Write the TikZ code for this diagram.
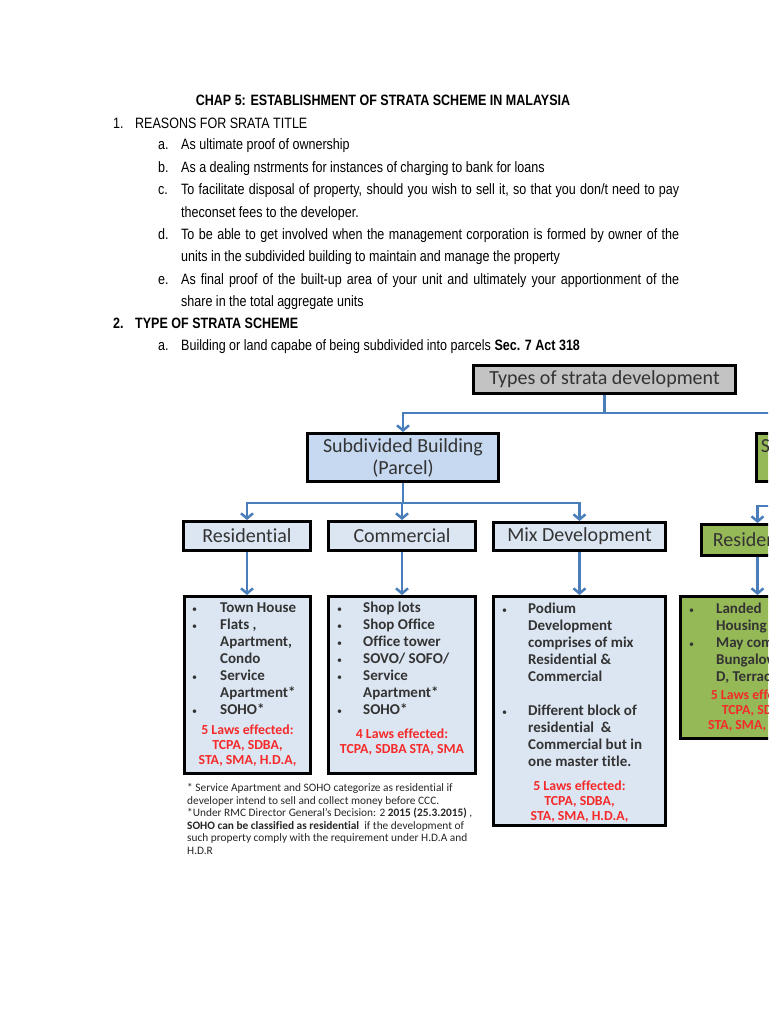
\documentclass[tikz,border=0pt]{standalone}
\usepackage{fontspec}
\setmainfont{Liberation Sans}
\newfontfamily\narrowfont[FakeStretch=0.835]{Liberation Sans}
\newfontfamily\calfont[Ligatures=NoCommon]{Carlito}
\usetikzlibrary{arrows.meta}
\definecolor{conn}{HTML}{4A7EBB}
\definecolor{boxblue}{HTML}{C6D9F1}
\definecolor{paleblue}{HTML}{DCE6F2}
\definecolor{titlegray}{HTML}{C3C3C3}
\definecolor{olivebox}{HTML}{96B957}
\definecolor{lawred}{HTML}{F52A2A}
\definecolor{ink}{HTML}{333333}
\newcommand\bul{{\mdseries\fontsize{10}{10}\selectfont\textbullet}}
\begin{document}
\begin{tikzpicture}[x=1pt,y=-1pt,
  hdr/.style={draw=black, line width=3pt, font=\calfont\fontsize{20}{22}\selectfont, text=ink, inner sep=0pt, align=center},
  detail/.style={draw=black, line width=3pt, inner sep=0pt},
  arr/.style={draw=conn, line width=2.5pt, -{Straight Barb[length=5pt,width=12pt]}},
  cline/.style={draw=conn, line width=2.5pt},
  lst/.style={anchor=north west, inner sep=0pt, font=\calfont\bfseries\fontsize{15}{17}\selectfont, text=ink},
  law/.style={anchor=north, inner sep=0pt, align=center, font=\calfont\bfseries\fontsize{13.8}{15}\selectfont, text=lawred},
  txt/.style={anchor=base west, inner sep=0pt, font=\narrowfont\fontsize{15}{18}\selectfont, text=black},
  btxt/.style={txt, font=\narrowfont\bfseries\fontsize{15}{18}\selectfont}
]
\useasboundingbox (0,0) rectangle (768,1024);
\clip (0,0) rectangle (768,1024);
\fill[white] (0,0) rectangle (768,1024);

% ---------- text part ----------
\node[btxt, anchor=base] (title) at (383,105.4) {CHAP 5: ESTABLISHMENT OF STRATA SCHEME IN MALAYSIA};
\node[txt] (n1) at (113,128.4) {1.};
\node[txt] (h1) at (135,128.4) {REASONS FOR SRATA TITLE};
\node[txt] (la) at (158,150) {a.};
\node[txt] (ta) at (181,150) {As ultimate proof of ownership};
\node[txt] (lb) at (158,172.5) {b.};
\node[txt] (tb) at (181,172.5) {As a dealing nstrments for instances of charging to bank for loans};
\node[txt] (lc) at (158,195) {c.};
\node[txt] (tc) at (181,195) {\makebox[498pt][s]{To facilitate disposal of property, should you wish to sell it, so that you don/t need to pay}};
\node[txt] (tc2) at (181,217.5) {theconset fees to the developer.};
\node[txt] (ld) at (158,239.5) {d.};
\node[txt] (td) at (181,239.5) {\makebox[498pt][s]{To be able to get involved when the management corporation is formed by owner of the}};
\node[txt] (td2) at (181,261.5) {units in the subdivided building to maintain and manage the property};
\node[txt] (le) at (158,284.5) {e.};
\node[txt] (te) at (181,284.5) {\makebox[498pt][s]{As final proof of the built-up area of your unit and ultimately your apportionment of the}};
\node[txt] (te2) at (181,306) {share in the total aggregate units};
\node[btxt] (n2) at (113,328.5) {2.};
\node[btxt] (h2) at (135,328.5) {TYPE OF STRATA SCHEME};
\node[txt] (l2a) at (158,350.5) {a.};
\node[txt] (t2a) at (181,350.5) {Building or land capabe of being subdivided into parcels \textbf{Sec. 7 Act 318}};

% ---------- diagram boxes ----------
\node[hdr, fill=titlegray, minimum width=262pt, minimum height=28pt] (types) at (604.5,379.5) {Types of strata development};
\node[hdr, fill=boxblue, minimum width=191pt, minimum height=48pt] (sub) at (403,457.5) {Subdivided Building\\(Parcel)};
\node[hdr, fill=olivebox, minimum width=142pt, minimum height=48pt] (land) at (827.5,457.5) {Subdivided Land\\(Land Parcel)};
\node[hdr, fill=paleblue, minimum width=127pt, minimum height=29pt] (res) at (247,536) {Residential};
\node[hdr, fill=paleblue, minimum width=147pt, minimum height=29pt] (com) at (402,536) {Commercial};
\node[hdr, fill=paleblue, minimum width=172pt, minimum height=28pt] (mix) at (579.5,536.5) {Mix Development};
\node[hdr, fill=olivebox, minimum width=112pt, minimum height=31pt] (gres) at (757.5,540) {Residential};

\node[detail, fill=paleblue, minimum width=126pt, minimum height=177pt] (resd) at (247.5,685) {};
\node[detail, fill=paleblue, minimum width=147pt, minimum height=177pt] (comd) at (402,685) {};
\node[detail, fill=paleblue, minimum width=172pt, minimum height=229pt] (mixd) at (579.5,711) {};
\node[detail, fill=olivebox, minimum width=153pt, minimum height=142pt] (gresd) at (757,667.5) {};

% ---------- connectors ----------
\coordinate (j1) at (604.5,413);
\draw[cline] (types.south) -- (j1);
\draw[arr] (j1) -| (sub.north);
\draw[arr] (j1) -| (land.north);
\coordinate (j2) at (403,503);
\draw[cline] (sub.south) -- (j2);
\draw[arr] (j2) -| (res.north);
\draw[arr] (j2) -| (com.north);
\draw[arr] (j2) -| (mix.north);
\coordinate (j3) at (827.5,506);
\draw[cline] (land.south) -- (j3);
\draw[arr] (j3) -| (gres.north);
\draw[arr] (res.south) -- (res.south |- resd.north);
\draw[arr] (com.south) -- (com.south |- comd.north);
\draw[arr] (mix.south) -- (mix.south |- mixd.north);
\draw[arr] (gres.south) -- (gres.south |- gresd.north);

% ---------- box contents ----------
\node[lst] (resl) at (192,600) {\begin{tabular}{@{}p{28pt}@{}l@{}}
\bul & Town House\\
\bul & Flats ,\\
 & Apartment,\\
 & Condo\\
\bul & Service\\
 & Apartment*\\
\bul & SOHO*
\end{tabular}};
\node[lst] (coml) at (337,600) {\begin{tabular}{@{}p{26pt}@{}l@{}}
\bul & Shop lots\\
\bul & Shop Office\\
\bul & Office tower\\
\bul & SOVO/ SOFO/\\
\bul & Service\\
 & Apartment*\\
\bul & SOHO*
\end{tabular}};
\node[lst] (mixl) at (502,601) {\begin{tabular}{@{}p{26pt}@{}l@{}}
\bul & Podium\\
 & Development\\
 & comprises of mix\\
 & Residential \&\\
 & Commercial\\
 & \\
\bul & Different block of\\
 & residential \ \&\\
 & Commercial but in\\
 & one master title.
\end{tabular}};
\node[lst] (gresl) at (689,601) {\begin{tabular}{@{}p{27pt}@{}l@{}}
\bul & Landed\\
 & Housing\\
\bul & May comprise of\\
 & Bungalow, Semi-\\
 & D, Terrace
\end{tabular}};

\node[law] (resw) at (247.5,724.5) {5 Laws effected:\\TCPA, SDBA,\\STA, SMA, H.D.A,};
\node[law] (comw) at (402,728.5) {4 Laws effected:\\TCPA, SDBA STA, SMA};
\node[law] (mixw) at (579.5,780.5) {5 Laws effected:\\TCPA, SDBA,\\STA, SMA, H.D.A,};
\node[law] (gresw) at (757,689.5) {5 Laws effected:\\TCPA, SDBA,\\STA, SMA, H.D.A,};

\node[anchor=north west, inner sep=0pt, align=left, text=black!85, font=\calfont\fontsize{11.35}{12.5}\selectfont] (note) at (187,783.5) {* Service Apartment and SOHO categorize as residential if\\developer intend to sell and collect money before CCC.\\*Under RMC Director General’s Decision: 2 \textbf{2015 (25.3.2015)} ,\\\textbf{SOHO can be classified as residential} \ if the development of\\such property comply with the requirement under H.D.A and\\H.D.R};
\end{tikzpicture}
\end{document}
